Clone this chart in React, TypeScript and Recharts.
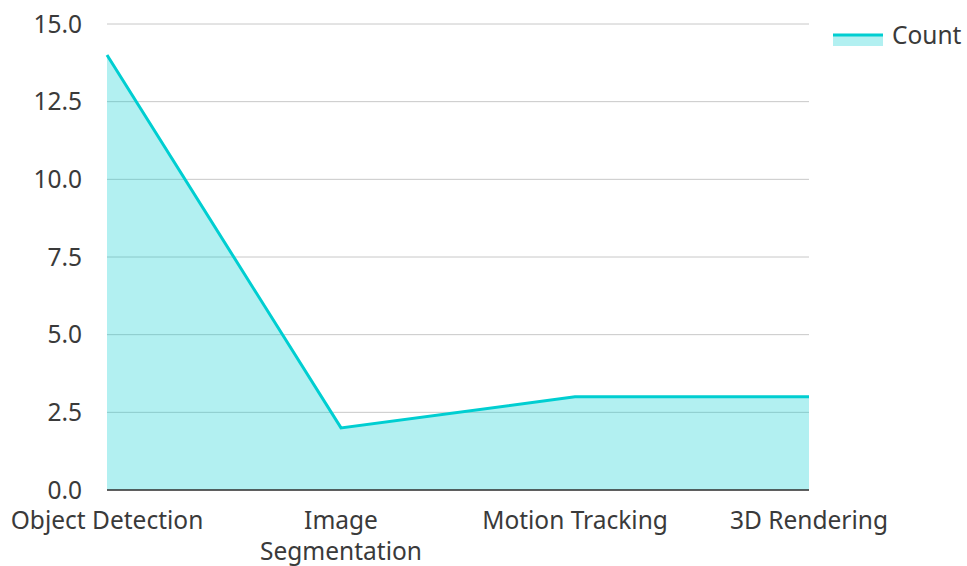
import React from "react";
import { AreaChart, Area, XAxis, YAxis, CartesianGrid, Legend } from "recharts";

const categories = ["Object Detection", "Image\nSegmentation", "Motion Tracking", "3D Rendering"];
const counts = [14, 2, 3, 3];
const yTicks = [0, 2.5, 5, 7.5, 10, 12.5, 15];

const data = categories.map((c, i) => ({ name: c, Count: counts[i] }));

const FONT = "'Noto Sans', sans-serif";
const TEXT = "#3a3a3a";
const LINE = "#00CED1";
const FS = 24.5;

const XTick = (props: any) => {
  const { x, y, payload } = props;
  const lines = String(payload.value).split("\n");
  return (
    <text x={x} y={y} textAnchor="middle" fill={TEXT} fontSize={FS} fontFamily={FONT}>
      {lines.map((l, i) => (
        <tspan key={i} x={x} dy={i === 0 ? 39 : 31}>
          {l}
        </tspan>
      ))}
    </text>
  );
};

const LegendContent = (props: any) => {
  const items = props.payload || [];
  return (
    <svg width={140} height={34} style={{ display: "block" }}>
      {items.map((it: any, i: number) => (
        <g key={i}>
          <rect x={6} y={17} width={50} height={11} fill={LINE} fillOpacity={0.3} />
          <line x1={6} x2={56} y1={17} y2={17} stroke={LINE} strokeWidth={3} />
          <text x={65} y={17} dy="0.35em" fill={TEXT} fontSize={FS} fontFamily={FONT}>
            {it.value}
          </text>
        </g>
      ))}
    </svg>
  );
};

export default function App() {
  return (
    <div style={{ position: "absolute", left: 0, top: 0, width: 967, height: 566, background: "#fff" }}>
      <AreaChart width={967} height={566} data={data} margin={{ top: 24, right: 18, left: 0, bottom: 0 }}>
        <CartesianGrid vertical={false} stroke="#c8c8c8" strokeWidth={1} />
        <XAxis
          dataKey="name"
          height={76}
          tick={<XTick />}
          tickLine={false}
          tickSize={0}
          tickMargin={0}
          axisLine={{ stroke: "#333", strokeWidth: 1.5 }}
          interval={0}
        />
        <YAxis
          width={107}
          domain={[0, 15]}
          ticks={yTicks}
          tickFormatter={(v: number) => v.toFixed(1)}
          axisLine={false}
          tickLine={false}
          tickSize={0}
          tickMargin={25}
          tick={{ fill: TEXT, fontSize: FS, fontFamily: FONT }}
        />
        <Legend
          layout="horizontal"
          verticalAlign="middle"
          align="right"
          content={<LegendContent />}
          wrapperStyle={{ top: 18, right: 0, left: "auto", width: 140 }}
        />
        <Area
          type="linear"
          dataKey="Count"
          stroke={LINE}
          strokeWidth={3}
          fill={LINE}
          fillOpacity={0.3}
          isAnimationActive={false}
          dot={false}
          activeDot={false}
        />
      </AreaChart>
    </div>
  );
}
